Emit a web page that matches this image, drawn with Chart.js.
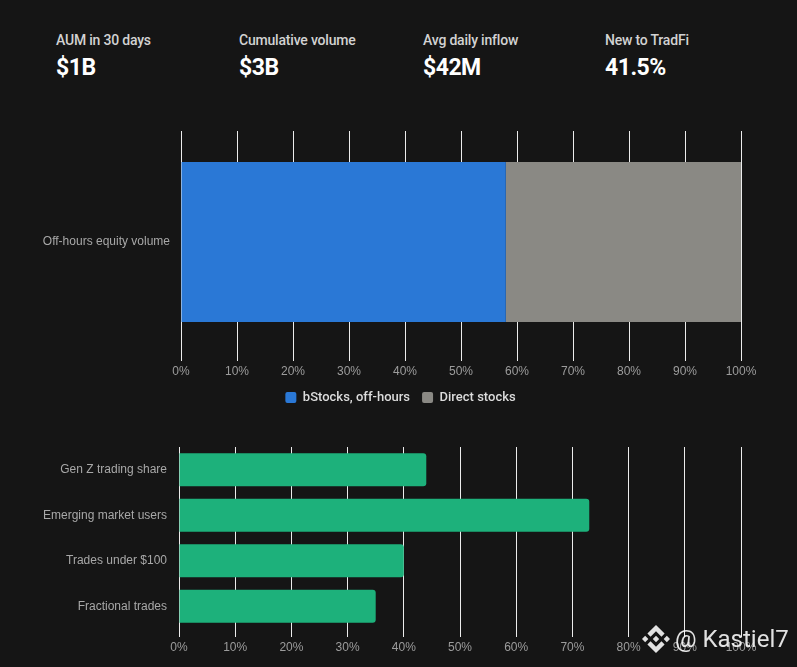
<!DOCTYPE html>
<html lang="en">
<head>
  <meta charset="UTF-8" />
  <title>bStocks</title>
  <style>
    body {
      margin: 0;
      background-color: #151515;
      font-family: Roboto, Arial, sans-serif;
      width: 797px;
      height: 667px;
      overflow: hidden;
      position: relative;
    }
    .kpi {
      position: absolute;
      top: 32px;
    }
    .kpi .label {
      color: #d2d2d2;
      font-size: 14px;
      font-weight: 500;
      letter-spacing: -0.2px;
    }
    .kpi .value {
      color: #fff;
      font-size: 23px;
      font-weight: 700;
      margin-top: 6px;
      letter-spacing: -0.5px;
    }
    .chart-box {
      position: absolute;
      left: 0;
      width: 797px;
    }
    #topBox { top: 115px; height: 299px; }
    #bottomBox { top: 430px; height: 237px; }
    /* watermark */
    .mark {
      position: absolute;
      left: 642px;
      top: 625px;
      display: flex;
      align-items: center;
      color: rgba(255, 255, 255, 0.88);
      font-family: Roboto, sans-serif;
      font-size: 24px;
    }
    .mark svg { width: 28px; height: 28px; margin-right: 5px; }
  </style>
  <script src="https://cdn.jsdelivr.net/npm/chart.js"></script>
</head>
<body>
  <div class="kpi" style="left:56px"><div class="label">AUM in 30 days</div><div class="value">$1B</div></div>
  <div class="kpi" style="left:239px"><div class="label">Cumulative volume</div><div class="value">$3B</div></div>
  <div class="kpi" style="left:423px"><div class="label">Avg daily inflow</div><div class="value">$42M</div></div>
  <div class="kpi" style="left:605px"><div class="label">New to TradFi</div><div class="value">41.5%</div></div>

  <div class="chart-box" id="topBox"><canvas id="topChart"></canvas></div>
  <div class="chart-box" id="bottomBox"><canvas id="bottomChart"></canvas></div>

  <div class="mark">
    <svg viewBox="0 0 126.61 126.61" fill="rgba(255,255,255,0.88)">
      <path d="M38.73,53.2l24.59-24.58,24.6,24.6,14.3-14.31L63.32,0,24.43,38.89Z"/>
      <path d="M0,63.31,14.3,49l14.31,14.31L14.3,77.61Z"/>
      <path d="M38.73,73.41,63.32,98l24.6-24.6,14.31,14.29L63.32,126.61,24.43,87.72Z"/>
      <path d="M98,63.31l14.3-14.31,14.31,14.3-14.31,14.31Z"/>
      <path d="M77.83,63.3L63.32,48.78,48.81,63.28,63.32,77.78Z"/>
    </svg>
    <span>@ Kastiel7</span>
  </div>

  <script>
    // data
    const shareCategories = ['Off-hours equity volume'];
    const bStocksShare = [58];
    const directShare = [42];

    const userCategories = ['Gen Z trading share', 'Emerging market users', 'Trades under $100', 'Fractional trades'];
    const userValues = [44, 73, 40, 35];

    const pctTicks = [0, 10, 20, 30, 40, 50, 60, 70, 80, 90, 100];

    Chart.defaults.font.family = 'Arial, "Liberation Sans", sans-serif';
    Chart.defaults.font.size = 12;
    Chart.defaults.animation = false;

    // legend sits centred on the whole page, not on the plot
    const legendShift = {
      id: 'legendShift',
      afterLayout(chart, args, opts) {
        const lg = chart.legend;
        if (!lg) return;
        lg.left += opts.dx;
        lg.right += opts.dx;
      }
    };

    function xAxis(stacked) {
      return {
        type: 'linear',
        stacked: stacked,
        min: 0,
        max: 100,
        afterBuildTicks: (scale) => { scale.ticks = pctTicks.map(v => ({ value: v })); },
        ticks: {
          color: '#9c9c9c',
          padding: 3,
          callback: (v) => v + '%'
        },
        grid: {
          color: '#ececec',
          lineWidth: 1,
          tickLength: 8
        },
        border: { display: false },
        afterFit: (scale) => { scale.height = 26; }
      };
    }

    function yAxis(stacked, width, pad) {
      return {
        stacked: stacked,
        ticks: { color: '#a8a8a8', padding: pad },
        grid: { display: false },
        border: { display: false },
        afterFit: (scale) => { scale.width = width; }
      };
    }

    new Chart(document.getElementById('topChart'), {
      type: 'bar',
      data: {
        labels: shareCategories,
        datasets: [
          { label: 'bStocks, off-hours', data: bStocksShare, backgroundColor: '#2a78d6' },
          { label: 'Direct stocks', data: directShare, backgroundColor: '#8a8984' }
        ]
      },
      options: {
        indexAxis: 'y',
        responsive: true,
        maintainAspectRatio: false,
        layout: { padding: { top: 16, right: 56, bottom: 0, left: 0 } },
        scales: { x: xAxis(true), y: yAxis(true, 181, 3) },
        plugins: {
          tooltip: { enabled: false },
          legendShift: { dx: 30 },
          legend: {
            position: 'bottom',
            labels: {
              color: '#dcdcdc',
              boxWidth: 11,
              boxHeight: 11,
              useBorderRadius: true,
              borderRadius: 2,
              padding: 12,
              font: { family: 'Roboto, sans-serif', size: 13, weight: '500' }
            }
          }
        }
      },
      plugins: [legendShift]
    });

    new Chart(document.getElementById('bottomChart'), {
      type: 'bar',
      data: {
        labels: userCategories,
        datasets: [
          { label: 'Share', data: userValues, backgroundColor: '#1db17b', borderRadius: 3, borderSkipped: 'start' }
        ]
      },
      options: {
        indexAxis: 'y',
        responsive: true,
        maintainAspectRatio: false,
        layout: { padding: { top: 17, right: 56, bottom: 12, left: 0 } },
        scales: { x: xAxis(false), y: yAxis(false, 179, 4) },
        plugins: {
          tooltip: { enabled: false },
          legend: { display: false }
        }
      }
    });
  </script>
</body>
</html>
